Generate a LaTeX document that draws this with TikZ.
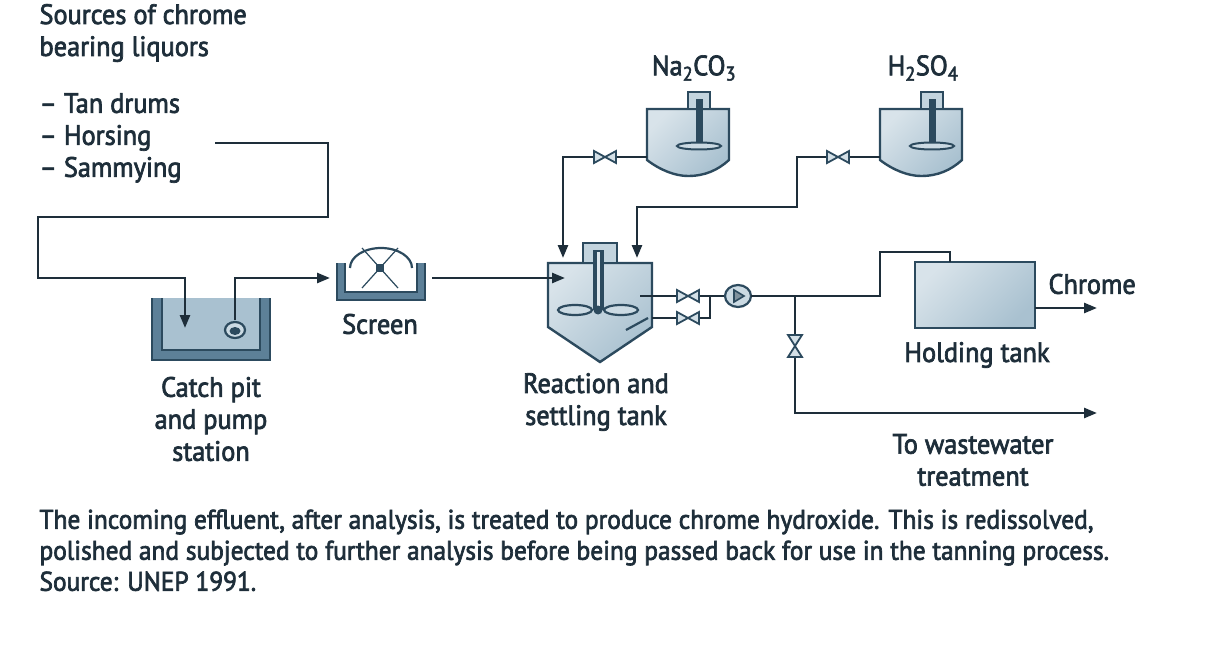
\documentclass[tikz,border=0pt]{standalone}
\usepackage{fontspec}
\setmainfont{PT Sans}[FakeStretch=0.94,FakeBold=2.5]
\usetikzlibrary{arrows.meta}
\definecolor{ink}{HTML}{1E2E3A}
\definecolor{edge}{HTML}{2C4A5E}
\definecolor{steel}{HTML}{5D8098}
\definecolor{pale}{HTML}{A9C1D0}
\begin{document}
\begin{tikzpicture}[x=1pt,y=-1pt,
  pipe/.style={draw=ink,line width=2.6pt},
  arr/.style={pipe,-{Triangle[length=13pt,width=10pt]}},
  tank/.style={draw=edge,line width=2.4pt,top color=pale!45,bottom color=pale,shading angle=45},
  lab/.style={font=\fontsize{28}{32}\selectfont,text=ink,align=center},
  valve/.style={draw=edge,line width=1.8pt,fill=pale!50}]
\useasboundingbox (0,0) rectangle (1215,647);
\newcommand{\hvalve}[2]{\draw[valve] (#1-11,#2-6)--(#1-11,#2+6)--(#1+11,#2-6)--(#1+11,#2+6)--cycle;}
% text
\node[lab,anchor=west,align=left] (src) at (36,33) {Sources of chrome\\bearing liquors};
\node[lab,anchor=west,align=left] (lst) at (36,138) {-- Tan drums\\-- Horsing\\-- Sammying};
\coordinate (s0) at (215,143);
% catch pit
\fill[steel] (152,298) rectangle (270,360);
\fill[pale] (162,298) rectangle (260,350);
\draw[edge,line width=2.2pt] (162,298)--(162,350)--(260,350)--(260,298);
\draw[edge,line width=2.2pt] (152,298)--(152,360)--(270,360)--(270,298);
\draw[edge,line width=2.2pt,fill=pale!60] (235,330) ellipse (10 and 8);
\fill[edge] (235,331) ellipse (5.5 and 4);
\draw[arr] (s0)--(328,143)--(328,217)--(38,217)--(38,278)--(185,278)--(185,328);
\node[lab] (pitl) at (211,419) {Catch pit\\and pump\\station};
% screen
\fill[steel] (337,263) rectangle (425,300);
\fill[white] (345,263) rectangle (417,292);
\draw[edge,line width=2.2pt] (337,263)--(337,300)--(425,300)--(425,263) (345,263)--(345,292)--(417,292)--(417,263);
\draw[edge,line width=2.2pt] (350,268) arc (180:360:31 and 20);
\draw[edge,line width=1.2pt] (362,248)--(398,288) (398,248)--(362,288);
\fill[edge] (376,264) rectangle (384,272);
\draw[arr] (235,320)--(235,278)--(330,278);
\node[lab] (scr) at (380,324) {Screen};
% reaction tank
\draw[tank] (548,263)--(548,327)--(600,362)--(652,327)--(652,263)--cycle;
\draw[edge,line width=2.2pt,fill=pale!70] (583,243) rectangle (617,263);
\fill[edge] (593,250) rectangle (604,310);
\fill[pale!40] (597,252) rectangle (600,308);
\draw[edge,line width=2.2pt,fill=pale!60] (575,310) ellipse (17 and 5) (621,310) ellipse (17 and 5);
\fill[edge] (598,310) circle (4.5);
\draw[edge,line width=2.2pt] (626,330)--(648,318);
\draw[arr] (432,278)--(565,278);
\node[lab] (rxn) at (596,402) {Reaction and\\settling tank};
% Na2CO3 tank
\draw[tank] (647,109)--(647,160) .. controls (660,170) and (675,176) .. (688,176) .. controls (705,176) and (718,170) .. (729,160)--(729,109)--cycle;
\draw[edge,line width=2.2pt,fill=pale!70] (688,92) rectangle (710,109);
\fill[edge] (696,99) rectangle (703,145);
\draw[edge,line width=2pt,fill=pale!60] (699,146) ellipse (22 and 3.5);
\node[lab] (na) at (694,68) {Na\textsubscript{2}CO\textsubscript{3}};
% H2SO4 tank
\draw[tank] (880,109)--(880,160) .. controls (893,170) and (908,176) .. (921,176) .. controls (938,176) and (951,170) .. (962,160)--(962,109)--cycle;
\draw[edge,line width=2.2pt,fill=pale!70] (921,92) rectangle (943,109);
\fill[edge] (929,99) rectangle (936,145);
\draw[edge,line width=2pt,fill=pale!60] (932,146) ellipse (22 and 3.5);
\node[lab] (h2) at (923,68) {H\textsubscript{2}SO\textsubscript{4}};
% dosing lines
\draw[arr] (647,157)--(563,157)--(563,258);
\hvalve{605}{157}
\draw[arr] (880,157)--(797,157)--(797,207)--(637,207)--(637,258);
\hvalve{838}{157}
% outlets
\draw[pipe] (640,296)--(725,296);
\draw[pipe] (652,318)--(710,318)--(710,296);
\hvalve{688}{296}
\hvalve{688}{318}
\draw[edge,line width=2.2pt,fill=pale!60] (738,296) ellipse (13 and 11);
\draw[edge,line width=1.6pt,fill=edge!60] (734,290)--(744,296)--(734,302)--cycle;
% holding tank
\draw[tank] (915,262) rectangle (1035,328);
\draw[pipe] (751,296)--(880,296)--(880,252)--(950,252)--(950,262);
\draw[arr] (1035,308)--(1097,308);
\node[lab,anchor=west] (chr) at (1045,284) {Chrome};
\node[lab] (hold) at (977,355) {Holding tank};
% waste branch
\draw[arr] (795,296)--(795,413)--(1097,413);
\draw[valve] (788,335)--(802,335)--(788,357)--(802,357)--cycle;
\node[lab] (ww) at (973,460) {To wastewater\\treatment};
% caption
\node[lab,anchor=north west,align=left,font=\fontsize{27}{31}\selectfont] (cap) at (36,506) {The incoming effluent, after analysis, is treated to produce chrome hydroxide. This is redissolved,\\polished and subjected to further analysis before being passed back for use in the tanning process.\\Source: UNEP 1991.};
\end{tikzpicture}
\end{document}
